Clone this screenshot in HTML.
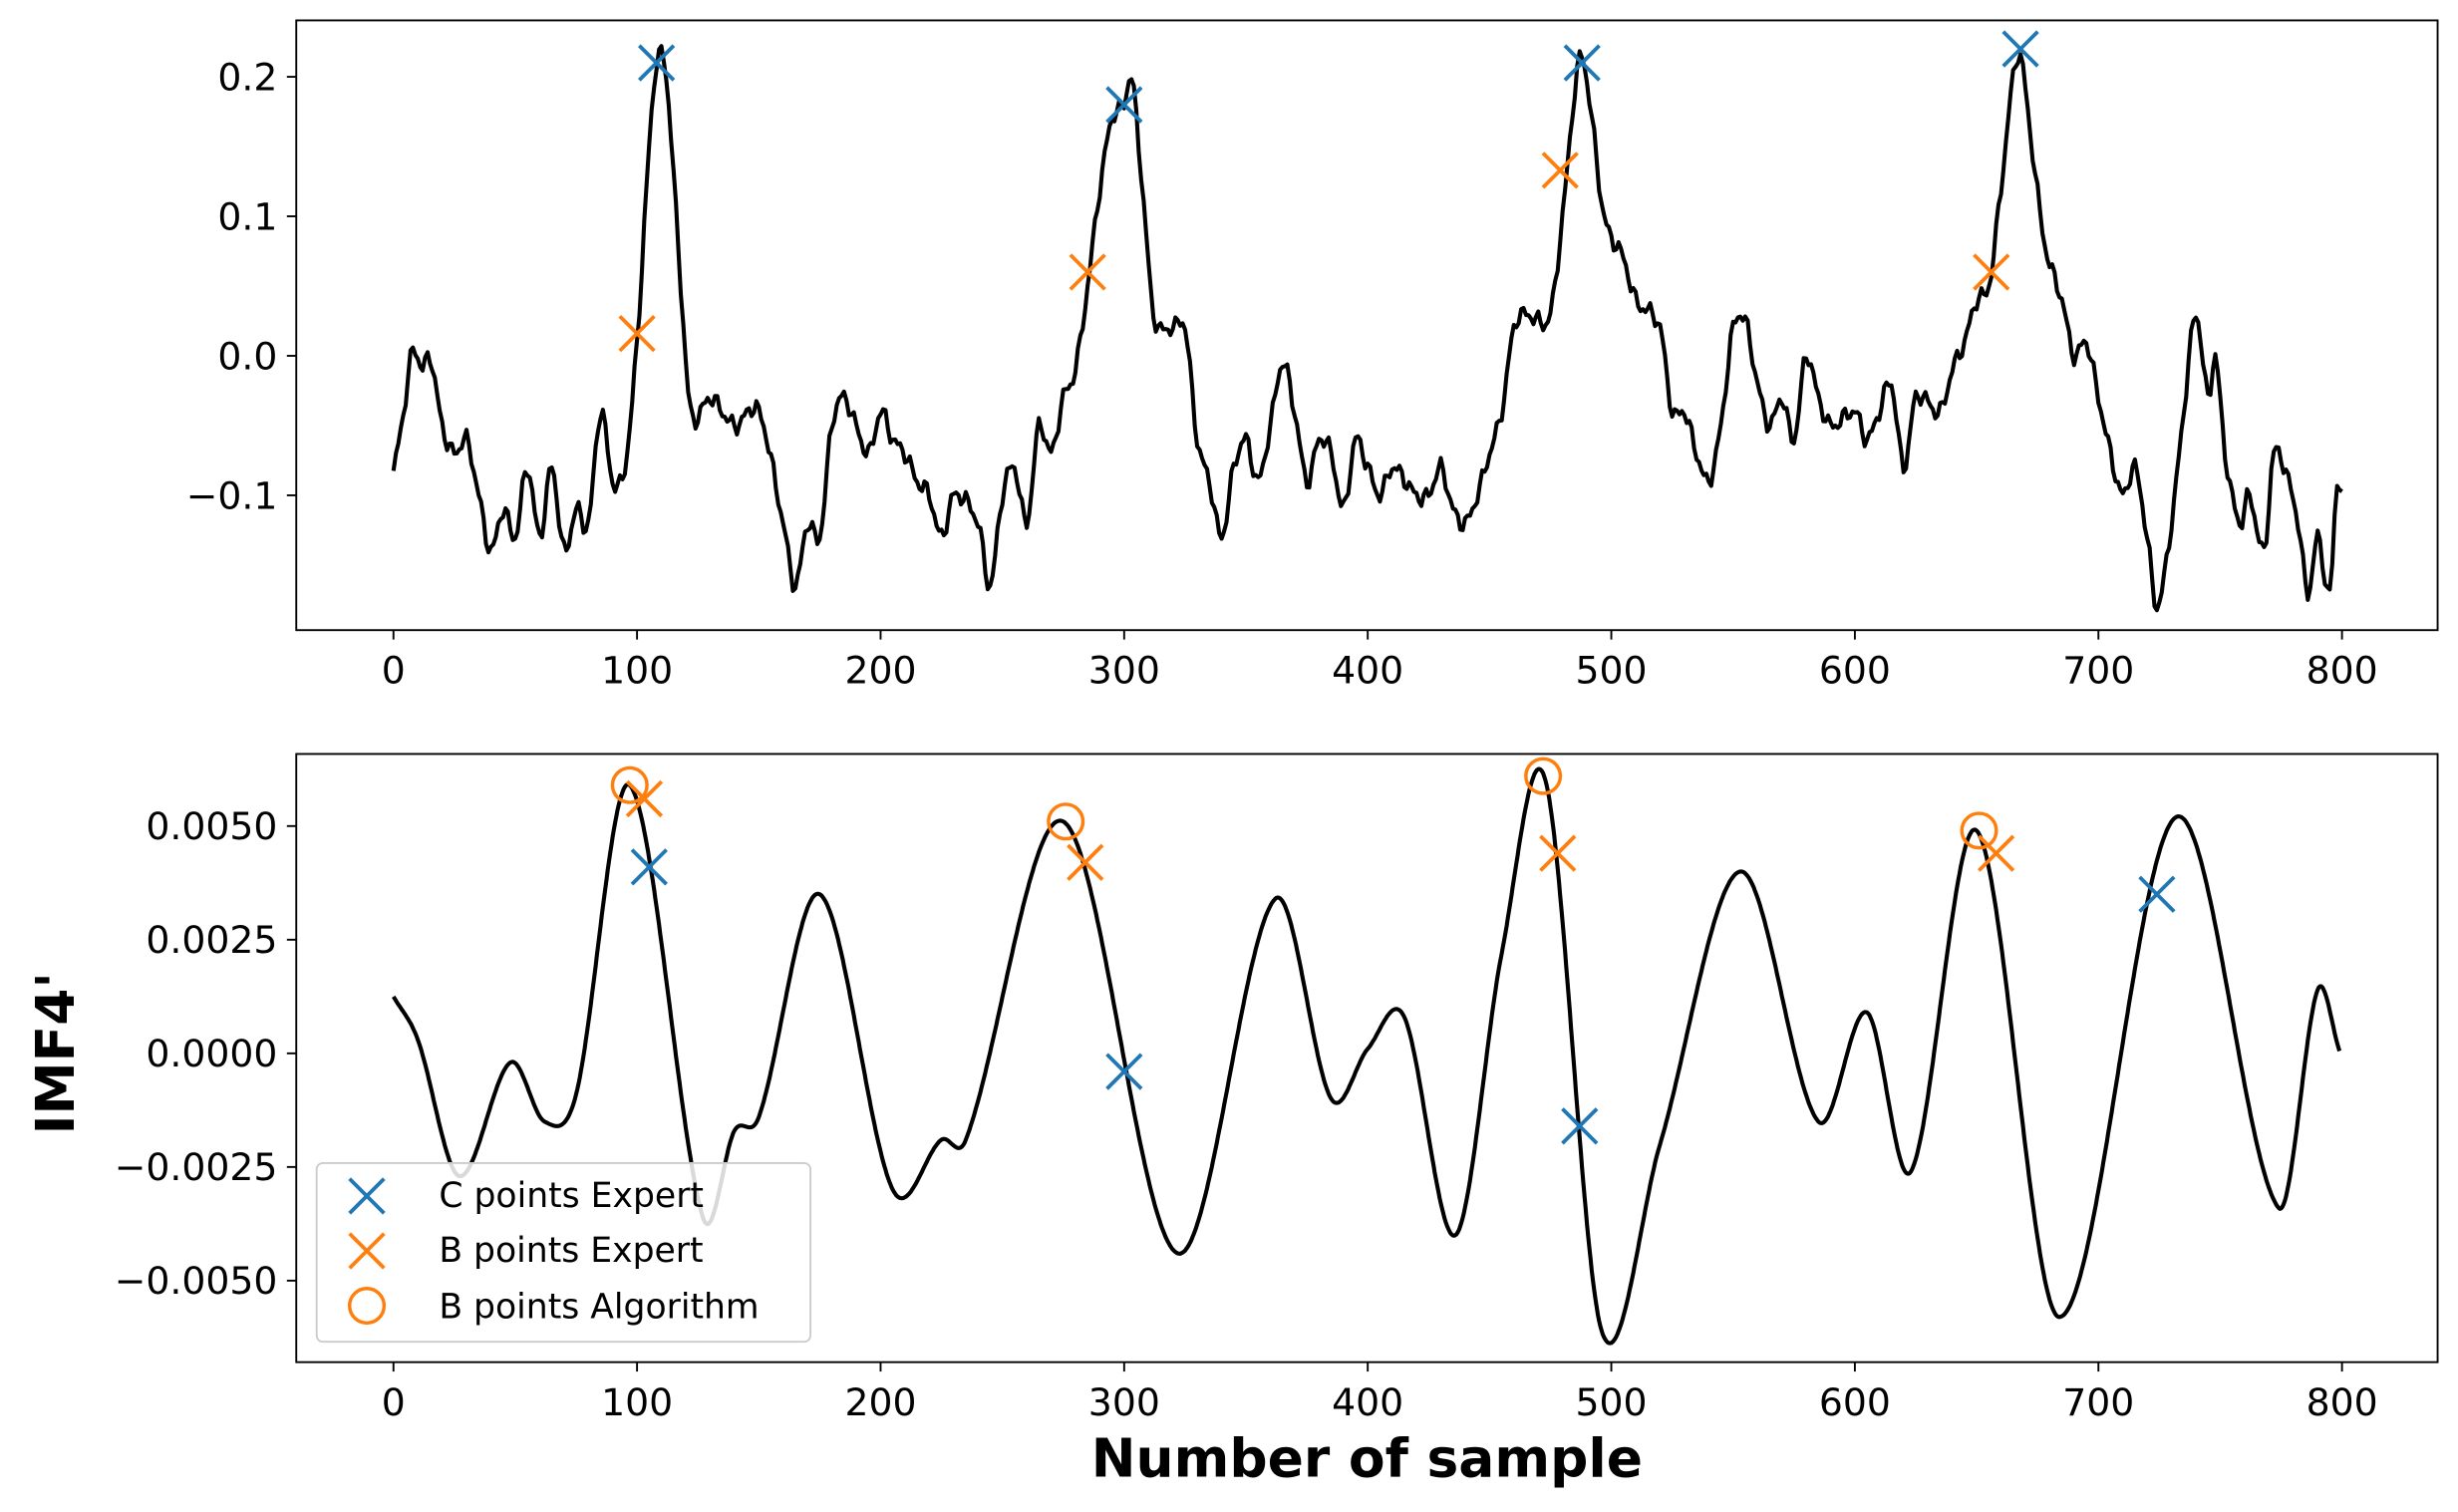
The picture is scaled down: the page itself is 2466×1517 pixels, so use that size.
<!DOCTYPE html>
<html><head><meta charset="utf-8"><style>html,body{margin:0;padding:0;background:#fff}svg{display:block}text{font-family:"DejaVu Sans","Liberation Sans",sans-serif}</style></head>
<body>
<svg id="s" width="2466" height="1517" viewBox="0 0 1568 964.6" preserveAspectRatio="none" xmlns="http://www.w3.org/2000/svg">
<rect width="1568" height="964.6" fill="#fff"/>
<g id="g"></g>
<rect x="189" y="13" width="1366" height="389" fill="none" stroke="#000" stroke-width="1.2"/>
<rect x="189" y="481" width="1366" height="388" fill="none" stroke="#000" stroke-width="1.2"/>
<text x="872" y="942" font-size="34" font-weight="bold" text-anchor="middle">Number of sample</text>
<text transform="translate(47,672) rotate(-90)" font-size="34" font-weight="bold" text-anchor="middle">IMF4'</text>
</svg>
<script>
var NS="http://www.w3.org/2000/svg",g=document.getElementById('g');
function X(s){return 251+s*(1494-251)/800}
function Yt(v){return 227-v*890}
function Yb(v){return 672-v*29000}
function el(t,a,txt){var e=document.createElementNS(NS,t);for(var k in a)e.setAttribute(k,a[k]);if(txt!==undefined)e.textContent=txt;g.appendChild(e);return e}
for(var i=0;i<=8;i++){var x=X(i*100);
 [[402,425],[869,892]].forEach(function(p){el('line',{x1:x,x2:x,y1:p[0],y2:p[0]+6,stroke:'#000','stroke-width':1.2});el('text',{x:x,y:p[1]+11,'font-size':24,'text-anchor':'middle'},String(i*100));});}
[[0.2,'0.2'],[0.1,'0.1'],[0,'0.0'],[-0.1,'\u22120.1']].forEach(function(t){var y=Yt(t[0]);el('line',{x1:183,x2:189,y1:y,y2:y,stroke:'#000','stroke-width':1.2});el('text',{x:177,y:y+8.5,'font-size':24,'text-anchor':'end'},t[1]);});
[[0.005,'0.0050'],[0.0025,'0.0025'],[0,'0.0000'],[-0.0025,'\u22120.0025'],[-0.005,'\u22120.0050']].forEach(function(t){var y=Yb(t[0]);el('line',{x1:183,x2:189,y1:y,y2:y,stroke:'#000','stroke-width':1.2});el('text',{x:177,y:y+8.5,'font-size':24,'text-anchor':'end'},t[1]);});
function interp(k,step){var out=[];for(var i=0;i<k.length-1;i++){var p0=k[Math.max(i-1,0)],p1=k[i],p2=k[i+1],p3=k[Math.min(i+2,k.length-1)];for(var s=p1[0];s<p2[0];s+=step){var t=(s-p1[0])/(p2[0]-p1[0]);var d1=(p2[1]-p0[1])/(p2[0]-p0[0]||1)*(p2[0]-p1[0]),d2=(p3[1]-p1[1])/(p3[0]-p1[0]||1)*(p2[0]-p1[0]);var h00=2*t*t*t-3*t*t+1,h10=t*t*t-2*t*t+t,h01=-2*t*t*t+3*t*t,h11=t*t*t-t*t;out.push([s,h00*p1[1]+h10*d1+h01*p2[1]+h11*d2]);}}out.push(k[k.length-1]);return out}
var kt=[[0,-0.085],[5,-0.03],[8,0.005],[12,-0.01],[15,0],[20,-0.05],[25,-0.07],[30,-0.06],[35,-0.1],[40,-0.14],[45,-0.11],[50,-0.13],[55,-0.08],[60,-0.13],[65,-0.08],[70,-0.14],[75,-0.11],[80,-0.12],[85,-0.04],[90,-0.09],[95,-0.08],[100,0.01],[105,0.15],[108,0.21],[112,0.2],[118,0.05],[122,-0.04],[130,-0.03],[140,-0.05],[150,-0.04],[160,-0.12],[165,-0.165],[170,-0.12],[175,-0.13],[180,-0.05],[185,-0.03],[195,-0.07],[200,-0.04],[205,-0.06],[210,-0.07],[215,-0.09],[220,-0.1],[225,-0.13],[230,-0.1],[240,-0.12],[245,-0.165],[250,-0.1],[255,-0.08],[260,-0.12],[265,-0.05],[270,-0.07],[275,-0.03],[280,-0.01],[285,0.05],[290,0.12],[295,0.17],[300,0.18],[303,0.2],[308,0.11],[312,0.03],[320,0.02],[325,0.02],[330,-0.06],[335,-0.09],[340,-0.13],[345,-0.08],[350,-0.06],[355,-0.09],[360,-0.05],[365,-0.005],[370,-0.04],[375,-0.09],[380,-0.06],[385,-0.07],[390,-0.11],[395,-0.06],[400,-0.08],[405,-0.1],[410,-0.08],[420,-0.1],[425,-0.1],[430,-0.08],[435,-0.11],[440,-0.12],[445,-0.1],[450,-0.07],[455,-0.04],[460,0.02],[465,0.03],[470,0.025],[475,0.03],[480,0.1],[485,0.19],[488,0.215],[492,0.17],[497,0.1],[505,0.07],[510,0.04],[520,0.02],[525,-0.04],[530,-0.04],[535,-0.07],[540,-0.09],[545,-0.05],[550,0.02],[555,0.025],[560,-0.02],[565,-0.05],[570,-0.03],[575,-0.06],[580,0],[585,-0.03],[590,-0.05],[600,-0.04],[605,-0.06],[610,-0.04],[615,-0.02],[620,-0.08],[625,-0.03],[635,-0.04],[640,-0.01],[645,0.01],[650,0.04],[655,0.05],[660,0.12],[665,0.2],[668,0.215],[672,0.16],[678,0.08],[685,0.04],[690,0],[695,0.01],[700,-0.03],[705,-0.07],[710,-0.1],[715,-0.08],[720,-0.13],[724,-0.18],[730,-0.12],[735,-0.04],[740,0.03],[745,-0.03],[748,0],[752,-0.07],[758,-0.12],[762,-0.1],[768,-0.14],[772,-0.07],[778,-0.09],[782,-0.12],[786,-0.17],[790,-0.13],[795,-0.17],[798,-0.09],[800,-0.1]];
var pt=interp(kt,1),d='';pt.forEach(function(p,i){var v=p[1]+0.004*Math.sin(p[0]*1.1)+0.003*Math.sin(p[0]*1.9+1);d+=(i?'L':'M')+X(p[0]).toFixed(1)+','+Yt(v).toFixed(1);});
el('path',{d:d,fill:'none',stroke:'#000','stroke-width':2.6,'stroke-linejoin':'round'});
var kb=[[0,0.00125],[10,0.0003],[27,-0.0027],[48,-0.0002],[62,-0.0015],[75,-0.0009],[97,0.0059],[127,-0.0036],[140,-0.0017],[150,-0.0014],[175,0.0035],[205,-0.003],[225,-0.0019],[235,-0.0019],[275,0.0051],[322,-0.0044],[362,0.0034],[385,-0.001],[400,0.0001],[415,0.0008],[436,-0.004],[455,0.0022],[473,0.006],[496,-0.0061],[520,-0.002],[553,0.004],[585,-0.0015],[605,0.0009],[623,-0.0026],[650,0.0049],[684,-0.0058],[732,0.0052],[774,-0.0034],[790,0.0014],[799,0.00005]];
var pb=interp(kb,0.5);d='';pb.forEach(function(p,i){d+=(i?'L':'M')+X(p[0]).toFixed(1)+','+Yb(p[1]).toFixed(1);});
el('path',{d:d,fill:'none',stroke:'#000','stroke-width':2.6,'stroke-linejoin':'round'});
function cross(x,y,c){el('path',{d:'M'+(x-11)+','+(y-11)+'L'+(x+11)+','+(y+11)+'M'+(x-11)+','+(y+11)+'L'+(x+11)+','+(y-11),stroke:c,'stroke-width':2.4,fill:'none'});}
function circ(x,y){el('circle',{cx:x,cy:y,r:11,fill:'none',stroke:'#ff7f0e','stroke-width':2.2});}
var B='#1f77b4',O='#ff7f0e';
[[108,0.21],[300,0.18],[488,0.21],[668,0.22]].forEach(function(p){cross(X(p[0]),Yt(p[1]),B)});
[[100,0.016],[285,0.06],[479,0.133],[656,0.06]].forEach(function(p){cross(X(p[0]),Yt(p[1]),O)});
[[105,0.0041],[300,-0.0004],[487,-0.0016],[724,0.0035]].forEach(function(p){cross(X(p[0]),Yb(p[1]),B)});
[[103,0.0056],[284,0.0042],[478,0.0044],[658,0.0044]].forEach(function(p){cross(X(p[0]),Yb(p[1]),O)});
[[97,0.0059],[276,0.0051],[472,0.0061],[651,0.0049]].forEach(function(p){circ(X(p[0]),Yb(p[1]))});
el('rect',{x:202,y:742,width:315,height:114,rx:4,fill:'#fff','fill-opacity':0.85,stroke:'#ccc','stroke-width':1.2});
cross(234,763,B);cross(234,798,O);circ(234,833);
el('text',{x:280,y:770,'font-size':22},'C points Expert');
el('text',{x:280,y:805,'font-size':22},'B points Expert');
el('text',{x:280,y:841,'font-size':22},'B points Algorithm');
</script>
</body></html>
